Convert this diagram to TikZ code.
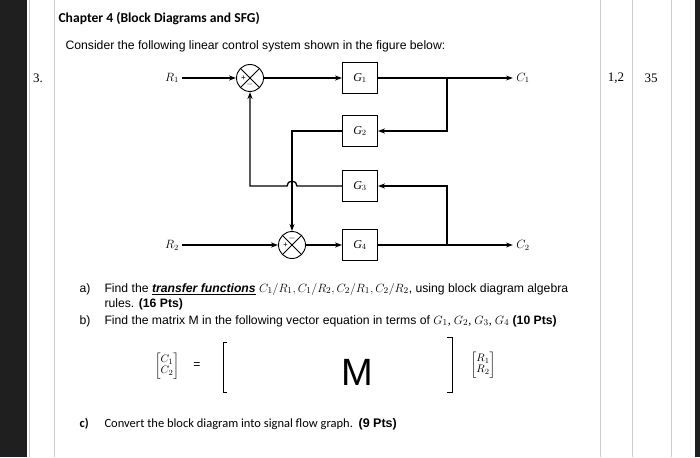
\documentclass[tikz,border=0pt]{standalone}
\usepackage{amsmath}
\usepackage{fontspec}
\setmainfont{Liberation Sans}
\newfontfamily\calib{Carlito}
\newfontfamily\tms{Liberation Serif}
\usetikzlibrary{calc,positioning,arrows.meta}
\newcommand{\fs}[1]{\fontsize{#1}{#1}\selectfont}

\tikzset{
	blk/.style={draw,line width=0.9pt,minimum width=35pt,minimum height=31pt,font=\tms\fs{12}\itshape},
	sumj/.style={circle,draw,line width=0.9pt,minimum size=27pt,inner sep=0pt,
		path picture={\draw[line width=0.9pt] (path picture bounding box.north west)--(path picture bounding box.south east)
			(path picture bounding box.north east)--(path picture bounding box.south west);}},
	sig/.style={line width=1.3pt,-{Stealth[length=7pt,width=5pt]}},
	lbl/.style={font=\tms\fs{12}},
	sgn/.style={font=\fs{8},inner sep=0pt},
}

\begin{document}
\begin{tikzpicture}[x=1pt,y=-1pt,font=\fs{12.2}]
	\useasboundingbox (0,0) rectangle (700,457);
	\fill[black!88] (0,0) rectangle (27,457);
	\fill[black!88] (695,0) rectangle (700,457);
	\foreach \x in {29,54,600,632,671}
		\draw[black!20,line width=0.8pt] (\x,0) -- (\x,457);

	% header text
	\node[anchor=west,font=\calib\bfseries\fs{13.6}] (chap) at (55,19) {Chapter 4 (Block Diagrams and SFG)};
	\node[anchor=west] (intro) at (62,46) {Consider the following linear control system shown in the figure below:};
	\node[font=\tms\fs{13}] (num) at (38,78) {3.};
	\node[font=\tms\fs{13}] (clo) at (616,78) {1,2};
	\node[font=\tms\fs{13}] (pts) at (651,78) {35};

	% block diagram
	\node[sumj] (s1) at (250,78) {};
	\node[sumj] (s2) at (292,245) {};
	\node[blk] (g1) at (360,78) {G$_1$};
	\node[blk] (g2) at (360,131) {G$_2$};
	\node[blk] (g3) at (360,186) {G$_3$};
	\node[blk] (g4) at (360,245) {G$_4$};
	\node[lbl] (r1) at (172,78) {$R_1$};
	\node[lbl] (r2) at (172,245) {$R_2$};
	\node[lbl] (c1) at (523,78) {$C_1$};
	\node[lbl] (c2) at (523,245) {$C_2$};
	\node[sgn] at ($(s1)+(-6.5,0)$) {+};
	\node[sgn] at ($(s1)+(0,6.5)$) {$-$};
	\node[sgn] at ($(s2)+(-6.5,0)$) {+};
	\node[sgn] at ($(s2)+(0,-6.5)$) {$-$};
	\coordinate (j1) at (447,78);
	\coordinate (j2) at (447,245);

	\draw[sig] (r1) -- (s1);
	\draw[sig] (s1) -- (g1);
	\draw[sig] (g1) -- (c1);
	\draw[sig] (j1) |- (g2);
	\draw[sig] (g2.west) -| (s2.north);
	\draw[sig] (r2) -- (s2);
	\draw[sig] (s2) -- (g4);
	\draw[sig] (g4) -- (c2);
	\draw[sig] (j2) |- (g3);
	\draw[sig] (g3.west) -- (297,186) arc (0:-180:5) -| (s1.south);

	% questions
	\node[anchor=west] (qa) at (76,289) {a)};
	\node[anchor=west] (ta) at (101,289) {Find the \underline{\textbf{\itshape transfer functions}} {\tms$C_1/R_1, C_1/R_2, C_2/R_1, C_2/R_2$}, using block diagram algebra};
	\node[anchor=west] (ta2) at (101,304) {rules. \textbf{(16 Pts)}};
	\node[anchor=west] (qb) at (76,321) {b)};
	\node[anchor=west] (tb) at (101,321) {Find the matrix M in the following vector equation in terms of {\tms$G_1$, $G_2$, $G_3$, $G_4$} \textbf{(10 Pts)}};
	\node[font=\tms\fs{11}] (cvec) at (167,366) {$\begin{bmatrix}C_1\\C_2\end{bmatrix}$};
	\node (eq) at (197,366) {=};
	\draw[line width=0.8pt] (227,342) -- (223,342) -- (223,392) -- (227,392);
	\draw[line width=0.8pt] (447,337) -- (452,337) -- (452,392) -- (447,392);
	\node[font=\fs{38}] (mm) at (357,372) {M};
	\node[font=\tms\fs{11}] (rvec) at (483,365) {$\begin{bmatrix}R_1\\R_2\end{bmatrix}$};
	\node[anchor=west,font=\calib\bfseries\fs{12.5}] (qc) at (76,424) {c)};
	\node[anchor=west,font=\calib\fs{12.5}] (tc) at (101,424) {Convert the block diagram into signal flow graph.\ \ {\fontspec{Liberation Sans}\bfseries(9 Pts)}};
\end{tikzpicture}
\end{document}
